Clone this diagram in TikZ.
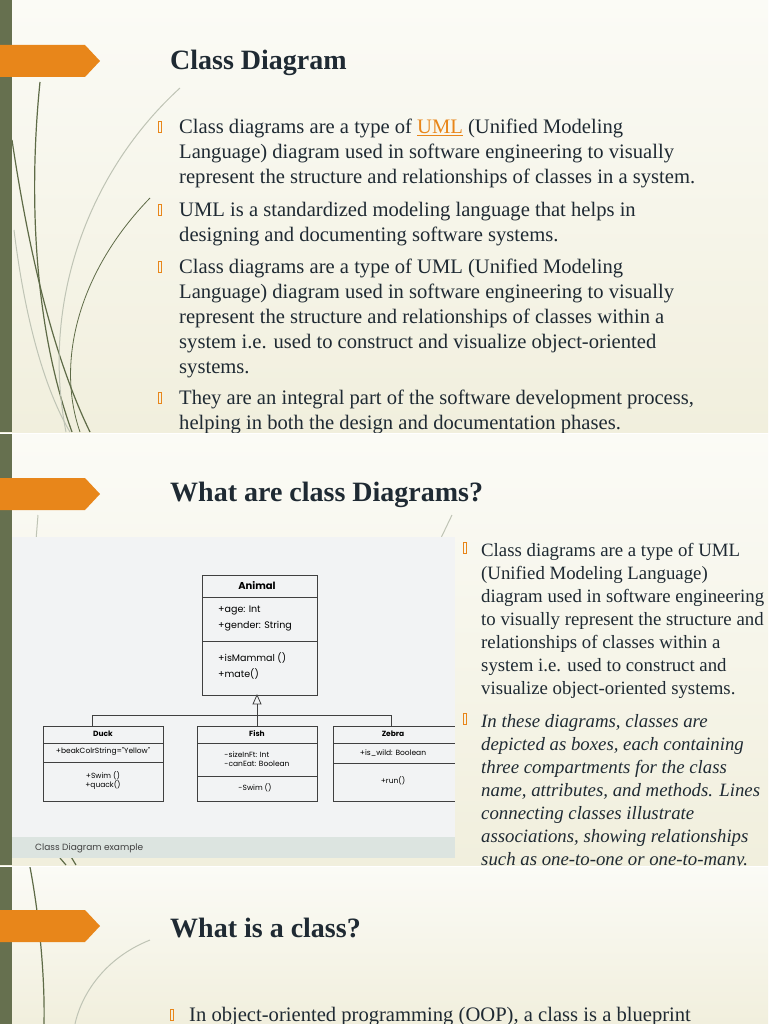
\documentclass[tikz,border=0pt]{standalone}
\usepackage{fontspec}
\setmainfont{Liberation Serif}
\newfontfamily\pop{Poppins}
\definecolor{cream}{HTML}{F1EFDD}
\definecolor{creamw}{HTML}{FBFBF6}
\definecolor{barg}{HTML}{66704F}
\definecolor{orng}{HTML}{E8861A}
\definecolor{ink}{HTML}{1F2A33}
\definecolor{imgbg}{HTML}{F2F3F4}
\definecolor{strip}{HTML}{DCE4E0}
\definecolor{lineg}{HTML}{5E6B47}
\tikzset{
  body/.style={anchor=north west,font=\fontsize{20.6}{25}\selectfont,text=ink,align=left,inner sep=0},
  body2/.style={anchor=north west,font=\fontsize{18.8}{23}\selectfont,text=ink,align=left,inner sep=0},
  ttl/.style={anchor=west,font=\fontsize{28}{32}\selectfont\bfseries,text=ink,inner sep=0},
  bul/.style={draw=orng,line width=0.8pt,minimum width=3pt,minimum height=11pt,inner sep=0},
  tab/.style={fill=orng},
  cls/.style={draw=black!75,line width=0.8pt},
  ctext/.style={font=\pop\fontsize{7.5}{9}\selectfont,inner sep=0,align=left},
  grass/.style={draw=lineg,line width=1.2pt},
  grassl/.style={draw=lineg!40,line width=1pt}
}
\begin{document}
\begin{tikzpicture}[x=1pt,y=-1pt]
\useasboundingbox (0,0) rectangle (768,1024);
% backgrounds
\shade[top color=creamw,bottom color=cream] (0,0) rectangle (768,432);
\shade[top color=creamw,bottom color=cream] (0,434) rectangle (768,865);
\shade[top color=creamw,bottom color=cream] (0,867) rectangle (768,1024);
\fill[barg] (0,0) rectangle (12,432);
\fill[barg] (0,434) rectangle (12,865);
\fill[barg] (0,867) rectangle (12,1024);
% slide 1 grass
\begin{scope}
\clip (12,0) rectangle (768,432);
\draw[grass] (40,82) .. controls (28,200) and (35,330) .. (72,432);
\draw[grass] (12,140) .. controls (30,260) and (55,360) .. (90,432);
\draw[grassl] (180,88) .. controls (90,170) and (40,300) .. (66,432);
\draw[grassl] (14,230) .. controls (25,320) and (45,390) .. (70,432);
\draw[grass,line width=0.8pt] (150,198) .. controls (80,270) and (55,360) .. (80,432);
\end{scope}
% slide 2 grass
\begin{scope}
\clip (12,434) rectangle (768,865);
\draw[grassl] (38,515) -- (36,540);
\draw[grassl] (452,515) -- (440,540);
\draw[grass] (60,858) -- (66,865);
\draw[grass] (70,855) -- (76,865);
\end{scope}
\begin{scope}
\clip (12,867) rectangle (768,1024);
\draw[grass] (30,867) .. controls (40,920) and (45,980) .. (44,1024);
\draw[grassl] (150,940) .. controls (100,960) and (80,1000) .. (75,1024);
\end{scope}
% tabs
\fill[tab] (0,45) -- (85,45) -- (100,61) -- (85,77) -- (0,77) -- cycle;
\fill[tab] (0,478) -- (85,478) -- (100,494) -- (85,510) -- (0,510) -- cycle;
\fill[tab] (0,910) -- (85,910) -- (100,926) -- (85,942) -- (0,942) -- cycle;
% slide 1 text
\node[ttl] (t1) at (170,63) {Class Diagram};
\node[bul] (b1) at (160,127) {};
\node[body] (p1) at (179,119) {Class diagrams are a type of \textcolor{orng}{\underline{UML}} (Unified Modeling\\Language) diagram used in software engineering to visually\\represent the structure and relationships of classes in a system.};
\node[bul] (b2) at (160,210) {};
\node[body] (p2) at (179,202) {UML is a standardized modeling language that helps in\\designing and documenting software systems.};
\node[bul] (b3) at (160,267) {};
\node[body] (p3) at (179,259) {Class diagrams are a type of UML (Unified Modeling\\Language) diagram used in software engineering to visually\\represent the structure and relationships of classes within a\\system i.e. used to construct and visualize object-oriented\\systems.};
\node[bul] (b4) at (160,398) {};
\begin{scope}
\clip (12,0) rectangle (768,432);
\node[body] (p4) at (179,390) {They are an integral part of the software development process,\\helping in both the design and documentation phases.};
\end{scope}
% slide 2
\node[ttl] (t2) at (170,495) {What are class Diagrams?};
\begin{scope}
\clip (12,434) rectangle (768,865);
\node[bul] (b5) at (465,548) {};
\node[body2] (p5) at (481,543) {Class diagrams are a type of UML\\(Unified Modeling Language)\\diagram used in software engineering\\to visually represent the structure and\\relationships of classes within a\\system i.e. used to construct and\\visualize object-oriented systems.};
\node[bul] (b6) at (465,719) {};
\node[body2,font=\fontsize{18.8}{23}\selectfont\itshape] (p6) at (481,714) {In these diagrams, classes are\\depicted as boxes, each containing\\three compartments for the class\\name, attributes, and methods. Lines\\connecting classes illustrate\\associations, showing relationships\\such as one-to-one or one-to-many.};
\end{scope}
% image
\fill[imgbg] (12,537) rectangle (455,858);
\fill[strip] (12,837) rectangle (455,858);
\node[ctext,anchor=west,font=\pop\fontsize{9}{10}\selectfont,text=black!75] (cap) at (35,848) {Class Diagram example};
% Animal
\draw[cls] (202,575) rectangle (317,695);
\draw[cls] (202,597) -- (317,597);
\draw[cls] (202,641) -- (317,641);
\node[ctext,font=\pop\bfseries\fontsize{10}{11}\selectfont] (an) at (257,586) {Animal};
\node[ctext,anchor=west,font=\pop\fontsize{9.5}{16}\selectfont] (aa) at (218,618) {+age: Int\\+gender: String};
\node[ctext,anchor=west,font=\pop\fontsize{9.5}{16}\selectfont] (am) at (218,666) {+isMammal ()\\+mate()};
\coordinate (tri) at (257,695);
\draw[cls,fill=imgbg] (257,695) -- (253,704) -- (261,704) -- cycle;
\draw[cls] (257,704) -- (257,726);
\draw[cls] (92,726) -- (92,715) -- (391,715) -- (391,726);
% Duck
\draw[cls] (43,726) rectangle (163,801);
\draw[cls] (43,743) -- (163,743);
\draw[cls] (43,762) -- (163,762);
\node[ctext,font=\pop\bfseries\fontsize{7.5}{9}\selectfont] at (103,734) {Duck};
\node[ctext] at (103,752) {+beakColrString="Yellow"};
\node[ctext,align=center] at (103,780) {+Swim ()\\+quack()};
% Fish
\draw[cls] (197,726) rectangle (317,801);
\draw[cls] (197,743) -- (317,743);
\draw[cls] (197,776) -- (317,776);
\node[ctext,font=\pop\bfseries\fontsize{7.5}{9}\selectfont] at (257,734) {Fish};
\node[ctext] at (257,759) {-sizeInFt: Int\\-canEat: Boolean};
\node[ctext] at (255,788) {-Swim ()};
% Zebra
\draw[cls] (333,726) -- (455,726);
\draw[cls] (333,726) -- (333,801) -- (455,801);
\draw[cls] (333,743) -- (455,743);
\draw[cls] (333,763) -- (455,763);
\node[ctext,font=\pop\bfseries\fontsize{7.5}{9}\selectfont] at (393,734) {Zebra};
\node[ctext] at (393,753) {+is\_wild: Boolean};
\node[ctext] at (393,781) {+run()};
% slide 3
\node[ttl] (t3) at (170,928) {What is a class?};
\node[bul] (b7) at (172,1015) {};
\begin{scope}
\clip (12,867) rectangle (768,1024);
\node[body] (p7) at (189,1007) {In object-oriented programming (OOP), a class is a blueprint};
\end{scope}
\end{tikzpicture}
\end{document}
